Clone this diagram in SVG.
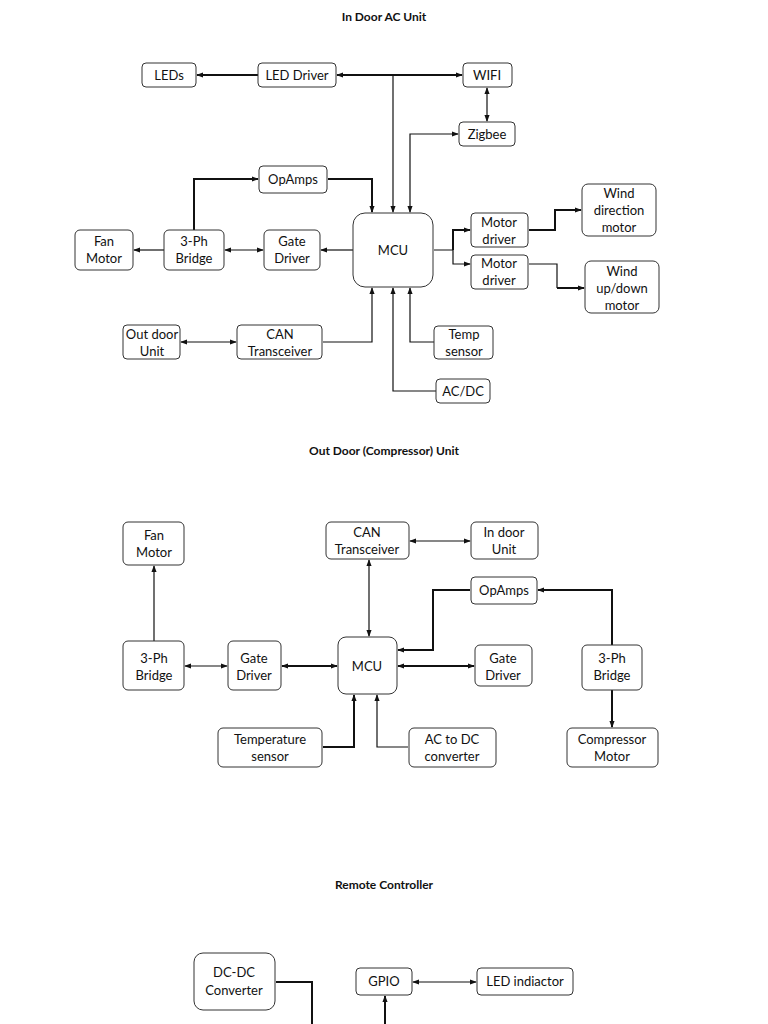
<svg xmlns="http://www.w3.org/2000/svg" width="768" height="1024" viewBox="0 0 768 1024">
<style>
rect{fill:#fff;stroke:#333;stroke-width:1}
text{font-family:Lato,"Liberation Sans",sans-serif;font-size:13px;text-anchor:middle;fill:#111}
.t{font-weight:bold;font-size:12px}
.c path{fill:none;stroke:#111;stroke-width:1.2}
.c .b{stroke-width:2}
</style>
<defs>
<marker id="a" viewBox="0 0 8 8" refX="7" refY="4" markerWidth="7" markerHeight="7" markerUnits="userSpaceOnUse" orient="auto-start-reverse"><path d="M0,1L8,4L0,7z" fill="#111"/></marker>
</defs>
<rect width="768" height="1024" style="stroke:none"/>
<text class="t" x="384" y="21">In Door AC Unit</text>
<text class="t" x="384" y="455">Out Door (Compressor) Unit</text>
<text class="t" x="384" y="889">Remote Controller</text>

<g class="c">
<path class="b" d="M258,75H197" marker-end="url(#a)"/>
<path class="b" d="M337,75H462" marker-start="url(#a)" marker-end="url(#a)"/>
<path d="M393,75V212" marker-end="url(#a)"/>
<path d="M410,212V134H458" marker-start="url(#a)" marker-end="url(#a)"/>
<path d="M487,88V121" marker-start="url(#a)" marker-end="url(#a)"/>
<path class="b" d="M194,230V179H258" marker-end="url(#a)"/>
<path class="b" d="M328,179H372V212" marker-end="url(#a)"/>
<path d="M353,250H321" marker-end="url(#a)"/>
<path d="M263,250H225" marker-start="url(#a)" marker-end="url(#a)"/>
<path d="M164,250H134" marker-end="url(#a)"/>
<path d="M434,250H453V264H470" marker-end="url(#a)"/>
<path class="b" d="M453,250V230H470" marker-end="url(#a)"/>
<path class="b" d="M529,230H555V210H581" marker-end="url(#a)"/>
<path d="M529,264H557V288" />
<path class="b" d="M557,288H584" marker-end="url(#a)"/>
<path d="M181,342H236" marker-start="url(#a)" marker-end="url(#a)"/>
<path d="M323,342H372V288" marker-end="url(#a)"/>
<path d="M434,342H410V288" marker-end="url(#a)"/>
<path d="M436,391H393V288" marker-end="url(#a)"/>

<path d="M154,641V566" marker-end="url(#a)"/>
<path d="M185,666H227" marker-start="url(#a)" marker-end="url(#a)"/>
<path class="b" d="M282,666H337" marker-start="url(#a)" marker-end="url(#a)"/>
<path class="b" d="M398,666H474" marker-start="url(#a)" marker-end="url(#a)"/>
<path d="M410,541H470" marker-start="url(#a)" marker-end="url(#a)"/>
<path d="M369,560V636" marker-start="url(#a)" marker-end="url(#a)"/>
<path class="b" d="M470,590H433V650H398" marker-end="url(#a)"/>
<path class="b" d="M612,645V590H538" marker-end="url(#a)"/>
<path class="b" d="M612,690V727" marker-end="url(#a)"/>
<path class="b" d="M323,747H354V695" marker-end="url(#a)"/>
<path d="M408,747H377V695" marker-end="url(#a)"/>

<path class="b" d="M276,982H312V1024"/>
<path class="b" d="M385,1024V996" marker-end="url(#a)"/>
<path d="M413,982H476" marker-start="url(#a)" marker-end="url(#a)"/>
</g>

<g id="leds"><rect x="142" y="63" width="54" height="24" rx="4"/><text x="169" y="80">LEDs</text></g>
<g id="leddriver"><rect x="258" y="63" width="78" height="24" rx="4"/><text x="297" y="80">LED Driver</text></g>
<g id="wifi"><rect x="463" y="63" width="49" height="24" rx="4"/><text x="487" y="80">WIFI</text></g>
<g id="zigbee"><rect x="459" y="122" width="56" height="24" rx="4"/><text x="487" y="139">Zigbee</text></g>
<g id="opamps1"><rect x="259" y="166" width="68" height="27" rx="4"/><text x="293" y="184">OpAmps</text></g>
<g id="mcu1"><rect x="353" y="213" width="80" height="74" rx="12"/><text x="393" y="255">MCU</text></g>
<g id="fan1"><rect x="75" y="230" width="58" height="40" rx="5"/><text x="104" y="246">Fan</text><text x="104" y="263">Motor</text></g>
<g id="bridge1"><rect x="164" y="230" width="60" height="40" rx="5"/><text x="194" y="246">3-Ph</text><text x="194" y="263">Bridge</text></g>
<g id="gate1"><rect x="264" y="230" width="56" height="40" rx="5"/><text x="292" y="246">Gate</text><text x="292" y="263">Driver</text></g>
<g id="md1"><rect x="471" y="213" width="57" height="34" rx="4"/><text x="499" y="227">Motor</text><text x="499" y="244">driver</text></g>
<g id="md2"><rect x="471" y="255" width="57" height="34" rx="4"/><text x="499" y="268">Motor</text><text x="499" y="285">driver</text></g>
<g id="winddir"><rect x="582" y="184" width="74" height="52" rx="6"/><text x="619" y="198">Wind</text><text x="619" y="215">direction</text><text x="619" y="232">motor</text></g>
<g id="windud"><rect x="585" y="261" width="74" height="52" rx="6"/><text x="622" y="276">Wind</text><text x="622" y="293">up/down</text><text x="622" y="310">motor</text></g>
<g id="outdoor"><rect x="123" y="325" width="57" height="34" rx="4"/><text x="152" y="339">Out door</text><text x="152" y="356">Unit</text></g>
<g id="can1"><rect x="237" y="325" width="85" height="34" rx="4"/><text x="280" y="339">CAN</text><text x="280" y="356">Transceiver</text></g>
<g id="temp1"><rect x="434" y="326" width="59" height="33" rx="4"/><text x="464" y="339">Temp</text><text x="464" y="356">sensor</text></g>
<g id="acdc1"><rect x="436" y="379" width="54" height="24" rx="4"/><text x="463" y="396">AC/DC</text></g>

<g id="fan2"><rect x="123" y="522" width="61" height="43" rx="5"/><text x="154" y="540">Fan</text><text x="154" y="557">Motor</text></g>
<g id="can2"><rect x="326" y="522" width="83" height="37" rx="5"/><text x="367" y="537">CAN</text><text x="367" y="554">Transceiver</text></g>
<g id="indoor"><rect x="471" y="522" width="67" height="37" rx="5"/><text x="504" y="537">In door</text><text x="504" y="554">Unit</text></g>
<g id="opamps2"><rect x="471" y="577" width="66" height="27" rx="4"/><text x="504" y="595">OpAmps</text></g>
<g id="mcu2"><rect x="338" y="637" width="59" height="57" rx="8"/><text x="367" y="671">MCU</text></g>
<g id="bridge2"><rect x="123" y="641" width="61" height="49" rx="5"/><text x="154" y="663">3-Ph</text><text x="154" y="680">Bridge</text></g>
<g id="gate2"><rect x="228" y="641" width="53" height="49" rx="5"/><text x="254" y="663">Gate</text><text x="254" y="680">Driver</text></g>
<g id="gate3"><rect x="475" y="645" width="57" height="41" rx="5"/><text x="503" y="663">Gate</text><text x="503" y="680">Driver</text></g>
<g id="bridge3"><rect x="582" y="645" width="60" height="45" rx="5"/><text x="612" y="663">3-Ph</text><text x="612" y="680">Bridge</text></g>
<g id="temp2"><rect x="218" y="728" width="104" height="39" rx="5"/><text x="270" y="744">Temperature</text><text x="270" y="761">sensor</text></g>
<g id="acdc2"><rect x="409" y="728" width="87" height="39" rx="5"/><text x="452" y="744">AC to DC</text><text x="452" y="761">converter</text></g>
<g id="comp"><rect x="567" y="728" width="91" height="39" rx="5"/><text x="612" y="744">Compressor</text><text x="612" y="761">Motor</text></g>

<g id="dcdc"><rect x="194" y="953" width="81" height="57" rx="9"/><text x="234" y="977">DC-DC</text><text x="234" y="995">Converter</text></g>
<g id="gpio"><rect x="356" y="968" width="56" height="27" rx="4"/><text x="384" y="986">GPIO</text></g>
<g id="ledind"><rect x="477" y="968" width="96" height="27" rx="4"/><text x="525" y="986">LED indiactor</text></g>
</svg>
